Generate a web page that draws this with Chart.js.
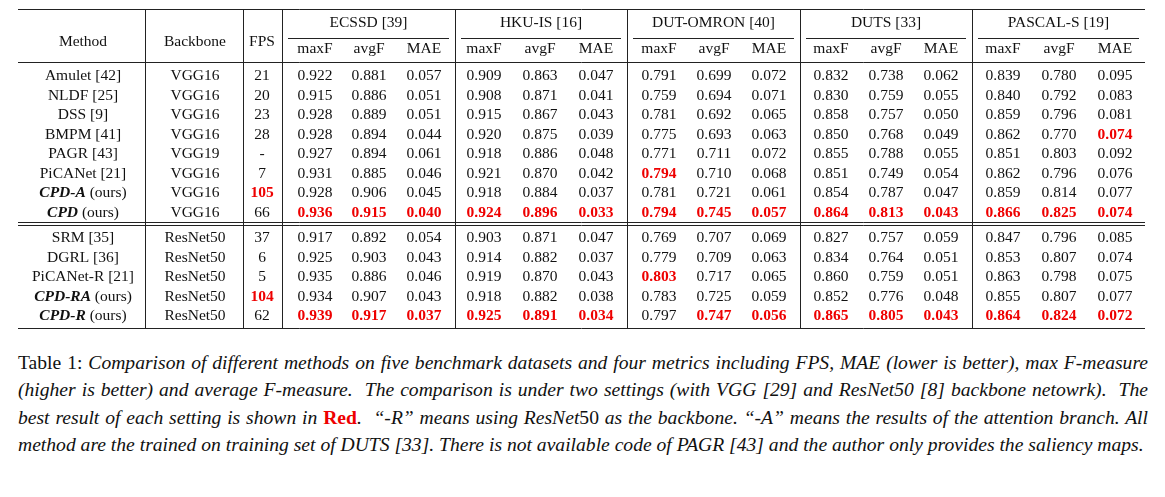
<!DOCTYPE html>
<html><head><meta charset="utf-8">
<script src="https://cdn.jsdelivr.net/npm/chart.js@4/dist/chart.umd.min.js"></script>
<style>
body{margin:0;background:#fff;width:1165px;height:497px;overflow:hidden;font-family:"Liberation Serif",serif}
#wrap{position:absolute;left:0;top:0;width:1165px;height:340px}
#cap{position:absolute;left:18px;top:349px;width:1130px;font-size:19.6px;line-height:27.3px;color:#111;text-align:justify;font-style:italic}
#cap .n{font-style:normal}
</style></head><body>
<div id="wrap"><canvas id="c"></canvas></div>
<div id="cap"><span class="n">Table 1:</span> Comparison of different methods on five benchmark datasets and four metrics including FPS, MAE (lower is better), max F-measure (higher is better) and average F-measure.&nbsp; The comparison is under two settings (with VGG [29] and ResNet50 [8] backbone netowrk).&nbsp; The best result of each setting is shown in <b style="color:#e00;font-style:normal">Red</b>.&nbsp; “-R” means using ResNet<span class="n">50</span> as the backbone. “-A” means the results of the attention branch. All method are the trained on training set of DUTS [33]. There is not available code of PAGR [43] and the author only provides the saliency maps.</div>
<script>
const datasets = ["ECSSD [39]","HKU-IS [16]","DUT-OMRON [40]","DUTS [33]","PASCAL-S [19]"];
const metrics = ["maxF","avgF","MAE"];
const methods = ["Amulet [42]","NLDF [25]","DSS [9]","BMPM [41]","PAGR [43]","PiCANet [21]","CPD-A|(ours)","CPD|(ours)","SRM [35]","DGRL [36]","PiCANet-R [21]","CPD-RA|(ours)","CPD-R|(ours)"];
const backbones = ["VGG16","VGG16","VGG16","VGG16","VGG19","VGG16","VGG16","VGG16","ResNet50","ResNet50","ResNet50","ResNet50","ResNet50"];
const fps = ["21","20","23","28","-","7","105","66","37","6","5","104","62"];
const values = [
["0.922","0.881","0.057","0.909","0.863","0.047","0.791","0.699","0.072","0.832","0.738","0.062","0.839","0.780","0.095"],
["0.915","0.886","0.051","0.908","0.871","0.041","0.759","0.694","0.071","0.830","0.759","0.055","0.840","0.792","0.083"],
["0.928","0.889","0.051","0.915","0.867","0.043","0.781","0.692","0.065","0.858","0.757","0.050","0.859","0.796","0.081"],
["0.928","0.894","0.044","0.920","0.875","0.039","0.775","0.693","0.063","0.850","0.768","0.049","0.862","0.770","0.074"],
["0.927","0.894","0.061","0.918","0.886","0.048","0.771","0.711","0.072","0.855","0.788","0.055","0.851","0.803","0.092"],
["0.931","0.885","0.046","0.921","0.870","0.042","0.794","0.710","0.068","0.851","0.749","0.054","0.862","0.796","0.076"],
["0.928","0.906","0.045","0.918","0.884","0.037","0.781","0.721","0.061","0.854","0.787","0.047","0.859","0.814","0.077"],
["0.936","0.915","0.040","0.924","0.896","0.033","0.794","0.745","0.057","0.864","0.813","0.043","0.866","0.825","0.074"],
["0.917","0.892","0.054","0.903","0.871","0.047","0.769","0.707","0.069","0.827","0.757","0.059","0.847","0.796","0.085"],
["0.925","0.903","0.043","0.914","0.882","0.037","0.779","0.709","0.063","0.834","0.764","0.051","0.853","0.807","0.074"],
["0.935","0.886","0.046","0.919","0.870","0.043","0.803","0.717","0.065","0.860","0.759","0.051","0.863","0.798","0.075"],
["0.934","0.907","0.043","0.918","0.882","0.038","0.783","0.725","0.059","0.852","0.776","0.048","0.855","0.807","0.077"],
["0.939","0.917","0.037","0.925","0.891","0.034","0.797","0.747","0.056","0.865","0.805","0.043","0.864","0.824","0.072"]];
// highlighted cells: column index (-1 = FPS)
const best = [[],[],[],[14],[],[6],[-1],[0,1,2,3,4,5,6,7,8,9,10,11,12,13,14],[],[],[6],[-1],[0,1,2,3,4,5,7,8,9,10,11,12,13,14]];

const rowY = [76,95.5,115,134.5,154,173.5,193,212.5,238,257.5,277,296.5,316];
const colX = [315,369,424,484,540,596,659,714,769,831,886,941,1003,1059,1115];
const vLines = [145,243,282,455,627,800,972];

const tablePlugin = {id:'table', afterDraw(chart){
  const ctx=chart.ctx, xs=chart.scales.x, ys=chart.scales.y;
  const X=v=>xs.getPixelForValue(v), Y=v=>ys.getPixelForValue(v);
  ctx.save(); ctx.strokeStyle='#222'; ctx.fillStyle='#111'; ctx.lineWidth=1;
  const h=(x1,x2,y)=>{ctx.beginPath();ctx.moveTo(X(x1),Y(y)+0.5);ctx.lineTo(X(x2),Y(y)+0.5);ctx.stroke();};
  h(18,1145,9); h(18,1145,62); h(18,1145,222); h(18,1145,225); h(18,1145,328);
  for(let d=0;d<5;d++) h(vLines[2+d]+6,(vLines[3+d]||1145)-6,38);
  vLines.forEach(x=>{ctx.beginPath();ctx.moveTo(X(x)+0.5,Y(9));ctx.lineTo(X(x)+0.5,Y(328));ctx.stroke();});
  ctx.textAlign='center'; ctx.textBaseline='middle';
  const f=(s,b,i)=>`${i?'italic ':''}${b?'bold ':''}${s}px "Liberation Serif"`;
  ctx.font=f(15.5);
  ctx.fillText('Method',X(83),Y(42)); ctx.fillText('Backbone',X(195),Y(42)); ctx.fillText('FPS',X(262),Y(42));
  datasets.forEach((d,i)=>{ctx.fillText(d,X((vLines[2+i]+(vLines[3+i]||1145))/2),Y(23));
    metrics.forEach((m,j)=>ctx.fillText(m,X(colX[i*3+j]),Y(49)));});
  methods.forEach((m,r)=>{
    const y=Y(rowY[r]);
    ctx.fillStyle='#111';
    if(m.includes('|')){
      const [a,b]=m.split('|'); ctx.font=f(15.5,true,true); const wa=ctx.measureText(a).width;
      ctx.font=f(15.5); const wb=ctx.measureText(' '+b).width; const x0=X(83)-(wa+wb)/2;
      ctx.textAlign='left'; ctx.font=f(15.5,true,true); ctx.fillText(a,x0,y);
      ctx.font=f(15.5); ctx.fillText(' '+b,x0+wa,y); ctx.textAlign='center';
    } else {ctx.font=f(15.5); ctx.fillText(m,X(83),y);}
    ctx.font=f(15.5); ctx.fillText(backbones[r],X(195),y);
    const bf=best[r].includes(-1);
    ctx.font=f(15.5,bf); ctx.fillStyle=bf?'#e00':'#111'; ctx.fillText(fps[r],X(262),y);
    values[r].forEach((v,c)=>{const b=best[r].includes(c);
      ctx.font=f(15.5,b); ctx.fillStyle=b?'#e00':'#111'; ctx.fillText(v,X(colX[c]),y);});
  });
  ctx.restore();
}};
new Chart(document.getElementById('c'),{type:'scatter',
  data:{datasets:[{data:[],pointRadius:0}]},
  options:{responsive:true,maintainAspectRatio:false,animation:false,
    layout:{padding:0},
    plugins:{legend:{display:false},tooltip:{enabled:false}},
    scales:{x:{type:'linear',min:0,max:1165,display:false},
            y:{type:'linear',min:0,max:340,reverse:true,display:false}}},
  plugins:[tablePlugin]});
</script></body></html>
